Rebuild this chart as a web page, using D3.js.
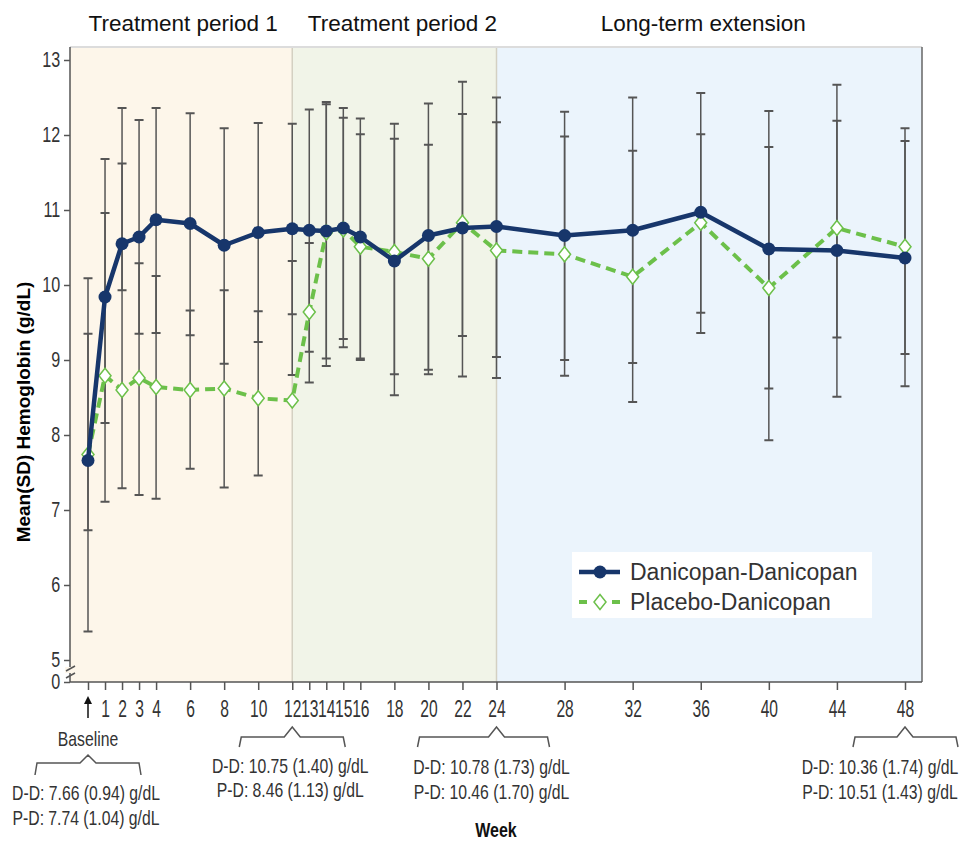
<!DOCTYPE html>
<html>
<head>
<meta charset="utf-8">
<script src="https://cdn.jsdelivr.net/npm/d3@7"></script>
<style>
body { margin: 0; background: #fff; }
text { font-family: "Liberation Sans", Arial, sans-serif; }
</style>
</head>
<body>
<svg id="chart" width="965" height="847"></svg>
<script>
// data
const weeks  = [0, 1, 2, 3, 4, 6, 8, 10, 12, 13, 14, 15, 16, 18, 20, 22, 24, 28, 32, 36, 40, 44, 48];
const ddMean = [7.66, 9.84, 10.55, 10.64, 10.87, 10.82, 10.53, 10.70, 10.75, 10.73, 10.72, 10.76, 10.64, 10.32, 10.66, 10.76, 10.78, 10.66, 10.73, 10.97, 10.48, 10.46, 10.36];
const pdMean = [7.74, 8.79, 8.60, 8.76, 8.64, 8.60, 8.62, 8.49, 8.46, 9.64, 10.70, 10.74, 10.51, 10.44, 10.35, 10.83, 10.46, 10.41, 10.11, 10.83, 9.96, 10.76, 10.51];
// error bar ends (caps) as drawn
const ddHi = [10.09, 11.68, 12.36, 12.20, 12.36, 12.29, 12.09, 12.16, 12.15, 12.34, 12.44, 12.36, 12.22, 12.15, 12.42, 12.71, 12.50, 12.31, 12.50, 12.56, 12.32, 12.67, 12.09];
const pdHi = [9.35, 10.96, 11.62, 10.29, 10.12, 9.66, 9.93, 9.65, 10.32, 10.56, 12.41, 12.23, 12.01, 11.95, 11.87, 12.28, 12.17, 11.98, 11.79, 12.01, 11.84, 12.19, 11.92];
const pdLo = [6.73, 8.16, 9.93, 9.35, 9.36, 9.33, 8.95, 9.24, 9.61, 9.11, 9.02, 9.28, 9.02, 8.81, 8.87, 9.32, 9.04, 9.00, 8.96, 9.63, 8.62, 9.30, 9.08];
const ddLo = [5.38, 7.11, 7.29, 7.20, 7.15, 7.55, 7.30, 7.46, 8.80, 8.70, 8.92, 9.17, 9.00, 8.53, 8.81, 8.78, 8.76, 8.79, 8.44, 9.36, 7.93, 8.51, 8.65];

const yTicks = [0, 5, 6, 7, 8, 9, 10, 11, 12, 13];
const periodNames = ["Treatment period 1", "Treatment period 2", "Long-term extension"];
const periodEnds = [12, 24];
const periodColors = ["#fdf6ea", "#f1f4e8", "#ebf4fc"];

const summaryWeeks = [0, 12, 24, 48];
const summaryDD = ["D-D: 7.66 (0.94) g/dL", "D-D: 10.75 (1.40) g/dL", "D-D: 10.78 (1.73) g/dL", "D-D: 10.36 (1.74) g/dL"];
const summaryPD = ["P-D: 7.74 (1.04) g/dL", "P-D: 8.46 (1.13) g/dL", "P-D: 10.46 (1.70) g/dL", "P-D: 10.51 (1.43) g/dL"];

const seriesNames = ["Danicopan-Danicopan", "Placebo-Danicopan"];

const NAVY = "#17366b";
const GREEN = "#6cc04a";
const GREY = "#555";

const svg = d3.select("#chart");
const plot = {left: 70, right: 922, top: 47, bottom: 682};

const x = d3.scaleLinear().domain([0, 48]).range([88, 905]);
// broken axis: 0..5 squeezed, 5..13 linear
const y = d3.scaleLinear().domain([0, 5, 13]).range([682, 660, 60]);

// condensed text helper (figure uses a narrow face)
function narrow(g, cx, cy, str, opts) {
    opts = opts || {};
    const t = g.append("g").attr("transform", `translate(${cx},${cy})`)
        .append("text")
        .attr("transform", `scale(${opts.sx || 0.75},1)`)
        .attr("text-anchor", opts.anchor || "middle")
        .attr("dy", "0.35em")
        .attr("font-size", opts.size || 21)
        .attr("font-weight", opts.weight || "normal")
        .attr("fill", opts.fill || "#333")
        .text(str);
    return t;
}

// period backgrounds
const bounds = [plot.left, x(periodEnds[0]), x(periodEnds[1]), plot.right];
periodNames.forEach(function(name, i) {
    svg.append("rect")
        .attr("x", bounds[i]).attr("y", plot.top)
        .attr("width", bounds[i + 1] - bounds[i])
        .attr("height", plot.bottom - plot.top)
        .attr("fill", periodColors[i]);
});
periodEnds.forEach(function(w) {
    svg.append("line")
        .attr("x1", x(w)).attr("x2", x(w))
        .attr("y1", plot.top).attr("y2", plot.bottom)
        .attr("stroke", "#d4d0c2").attr("stroke-width", 1.5);
});

// period titles
const titleShift = [2, 8, -6];
periodNames.forEach(function(name, i) {
    svg.append("text")
        .attr("x", (bounds[i] + bounds[i + 1]) / 2 + titleShift[i])
        .attr("y", 31)
        .attr("text-anchor", "middle")
        .attr("font-size", 22.5)
        .attr("fill", "#111")
        .text(name);
});

// frame
svg.append("line").attr("x1", plot.left).attr("x2", plot.right)
    .attr("y1", plot.top).attr("y2", plot.top)
    .attr("stroke", "#dcdcdc").attr("stroke-width", 2);
svg.append("line").attr("x1", plot.right).attr("x2", plot.right)
    .attr("y1", plot.top).attr("y2", plot.bottom)
    .attr("stroke", "#666").attr("stroke-width", 1.5);

// axes
const yAxis = svg.append("g")
    .attr("transform", `translate(${plot.left},0)`)
    .call(d3.axisLeft(y).tickValues(yTicks).tickSize(6).tickFormat(d3.format("d")));
yAxis.select(".domain").remove();
yAxis.selectAll(".tick line").attr("stroke", GREY).attr("stroke-width", 1.5);
yAxis.selectAll(".tick text")
    .attr("font-size", 21.5).attr("fill", "#333")
    .attr("font-family", "Liberation Sans, Arial, sans-serif")
    .attr("x", -13).attr("transform", "scale(0.75,1)");

const xAxis = svg.append("g")
    .attr("transform", `translate(0,${plot.bottom})`)
    .call(d3.axisBottom(x).tickValues(weeks).tickSize(8).tickPadding(11)
        .tickFormat(d => d === 0 ? "" : d));
xAxis.select(".domain").remove();
xAxis.selectAll(".tick line").attr("stroke", GREY).attr("stroke-width", 1.5);
xAxis.selectAll(".tick text")
    .attr("font-size", 23).attr("fill", "#333")
    .attr("font-family", "Liberation Sans, Arial, sans-serif")
    .attr("transform", "scale(0.68,1)");

svg.append("line").attr("x1", plot.left).attr("x2", plot.left)
    .attr("y1", plot.top).attr("y2", plot.bottom)
    .attr("stroke", GREY).attr("stroke-width", 1.5);
svg.append("line").attr("x1", plot.left).attr("x2", plot.right)
    .attr("y1", plot.bottom).attr("y2", plot.bottom)
    .attr("stroke", GREY).attr("stroke-width", 1.5);

// axis break marks
svg.append("rect").attr("x", 65).attr("y", 667).attr("width", 10).attr("height", 6)
    .attr("fill", periodColors[0]);
[666, 673].forEach(function(b) {
    svg.append("line").attr("x1", 66).attr("y1", b + 5).attr("x2", 75).attr("y2", b)
        .attr("stroke", GREY).attr("stroke-width", 1.5);
});

// baseline arrow
svg.append("line").attr("x1", x(0)).attr("x2", x(0)).attr("y1", 718).attr("y2", 702)
    .attr("stroke", "#111").attr("stroke-width", 1.5);
svg.append("path")
    .attr("d", `M${x(0)},696 L${x(0) + 4},704 L${x(0) - 4},704 Z`)
    .attr("fill", "#111");
narrow(svg, x(0), 739, "Baseline");

// error bars
const series = [
    {name: seriesNames[1], mean: pdMean, hi: pdHi, lo: pdLo},
    {name: seriesNames[0], mean: ddMean, hi: ddHi, lo: ddLo}
];
const errG = svg.append("g").attr("stroke", GREY);
series.forEach(function(s) {
    const d = weeks.map((w, i) => ({w: w, hi: s.hi[i], lo: s.lo[i]}));
    errG.selectAll(null).data(d).enter().append("line")
        .attr("x1", e => x(e.w)).attr("x2", e => x(e.w))
        .attr("y1", e => y(e.hi)).attr("y2", e => y(e.lo))
        .attr("stroke-width", 1.5);
    ["hi", "lo"].forEach(function(k) {
        errG.selectAll(null).data(d).enter().append("line")
            .attr("x1", e => x(e.w) - 4.5).attr("x2", e => x(e.w) + 4.5)
            .attr("y1", e => y(e[k])).attr("y2", e => y(e[k]))
            .attr("stroke-width", 2);
    });
});

const line = d3.line().x(d => x(d.w)).y(d => y(d.v));
const diamond = "M0,-7.5 L6,0 L0,7.5 L-6,0 Z";

// Placebo-Danicopan
const pdPts = weeks.map((w, i) => ({w: w, v: pdMean[i]}));
svg.append("path").datum(pdPts)
    .attr("d", line).attr("fill", "none")
    .attr("stroke", GREEN).attr("stroke-width", 4)
    .attr("stroke-dasharray", "10,6");
svg.selectAll("path.pd").data(pdPts).enter().append("path")
    .attr("class", "pd")
    .attr("transform", d => `translate(${x(d.w)},${y(d.v)})`)
    .attr("d", diamond)
    .attr("fill", "#fff").attr("stroke", GREEN).attr("stroke-width", 1.5);

// Danicopan-Danicopan
const ddPts = weeks.map((w, i) => ({w: w, v: ddMean[i]}));
svg.append("path").datum(ddPts)
    .attr("d", line).attr("fill", "none")
    .attr("stroke", NAVY).attr("stroke-width", 4.5)
    .attr("stroke-linejoin", "round");
svg.selectAll("circle.dd").data(ddPts).enter().append("circle")
    .attr("class", "dd")
    .attr("cx", d => x(d.w)).attr("cy", d => y(d.v)).attr("r", 6.5)
    .attr("fill", NAVY);

// legend
const lg = svg.append("g");
lg.append("rect").attr("x", 572).attr("y", 552).attr("width", 300).attr("height", 66).attr("fill", "#fff");
lg.append("line").attr("x1", 579).attr("x2", 620).attr("y1", 572).attr("y2", 572)
    .attr("stroke", NAVY).attr("stroke-width", 4.5);
lg.append("circle").attr("cx", 600).attr("cy", 572).attr("r", 6.5).attr("fill", NAVY);
lg.append("line").attr("x1", 579).attr("x2", 620).attr("y1", 602).attr("y2", 602)
    .attr("stroke", GREEN).attr("stroke-width", 4).attr("stroke-dasharray", "8,25");
lg.append("path").attr("transform", "translate(600,602)").attr("d", diamond)
    .attr("fill", "#fff").attr("stroke", GREEN).attr("stroke-width", 1.5);
seriesNames.forEach(function(n, i) {
    lg.append("text").attr("x", 630).attr("y", 572 + i * 30).attr("dy", "0.35em")
        .attr("font-size", 23).attr("fill", "#333").text(n);
});

// summary braces + values
const braceLayout = [
    {l: 53, r: 53, yH: 763, peak: 755, end: 775, dx: -2, ty: [793, 818]},
    {l: 53, r: 53, yH: 737, peak: 727, end: 747, dx: -2, ty: [766, 790]},
    {l: 79, r: 53, yH: 737, peak: 727, end: 747, dx: -5, ty: [767, 792]},
    {l: 52, r: 53, yH: 737, peak: 727, end: 747, dx: -25, ty: [767, 792]}
];
summaryWeeks.forEach(function(w, i) {
    const b = braceLayout[i];
    const cx = x(w);
    const p = d3.path();
    p.moveTo(cx - b.l, b.end);
    p.lineTo(cx - b.l + 2, b.yH);
    p.lineTo(cx - 8, b.yH);
    p.lineTo(cx, b.peak);
    p.lineTo(cx + 8, b.yH);
    p.lineTo(cx + b.r - 2, b.yH);
    p.lineTo(cx + b.r, b.end);
    svg.append("path").attr("d", p.toString()).attr("fill", "none")
        .attr("stroke", GREY).attr("stroke-width", 1.5);
    narrow(svg, cx + b.dx, b.ty[0], summaryDD[i]);
    narrow(svg, cx + b.dx, b.ty[1], summaryPD[i]);
});

// axis titles
narrow(svg, 496, 830, "Week", {size: 20, weight: "bold", sx: 0.8, fill: "#111"});
svg.append("text")
    .attr("transform", "translate(23,412) rotate(-90)")
    .attr("text-anchor", "middle").attr("dy", "0.35em")
    .attr("font-size", 19).attr("font-weight", "bold").attr("fill", "#000")
    .text("Mean(SD) Hemoglobin (g/dL)");
</script>
</body>
</html>
